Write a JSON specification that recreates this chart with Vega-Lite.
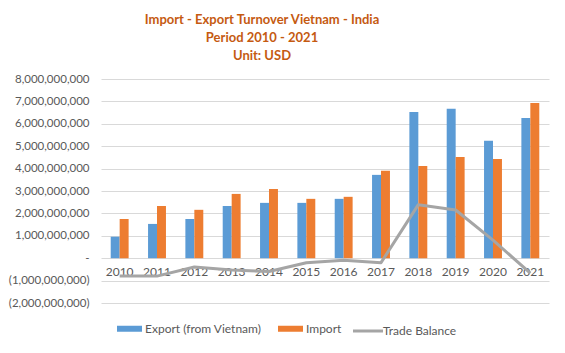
{
  "$schema": "https://vega.github.io/schema/vega-lite/v6.json",
  "autosize": "none",
  "width": 448,
  "height": 224,
  "padding": {"left": 101, "top": 79, "right": 16, "bottom": 50},
  "background": "white",
  "config": {
    "view": {"stroke": null},
    "font": "Lato",
    "axis": {"labelFont": "Lato", "labelColor": "#595959", "labelFontSize": 11.5}
  },
  "title": {
    "text": ["Import - Export Turnover Vietnam - India", "Period 2010 - 2021", "Unit: USD"],
    "font": "Lato",
    "fontSize": 13,
    "fontWeight": "bold",
    "color": "#C55A11",
    "anchor": "middle",
    "lineHeight": 18,
    "dx": -63,
    "offset": 10
  },
  "data": {
    "values": [
      {"year": "2010", "series": "Export (from Vietnam)", "value": 960000000},
      {"year": "2010", "series": "Import", "value": 1750000000},
      {"year": "2011", "series": "Export (from Vietnam)", "value": 1530000000},
      {"year": "2011", "series": "Import", "value": 2330000000},
      {"year": "2012", "series": "Export (from Vietnam)", "value": 1750000000},
      {"year": "2012", "series": "Import", "value": 2160000000},
      {"year": "2013", "series": "Export (from Vietnam)", "value": 2330000000},
      {"year": "2013", "series": "Import", "value": 2870000000},
      {"year": "2014", "series": "Export (from Vietnam)", "value": 2470000000},
      {"year": "2014", "series": "Import", "value": 3090000000},
      {"year": "2015", "series": "Export (from Vietnam)", "value": 2470000000},
      {"year": "2015", "series": "Import", "value": 2650000000},
      {"year": "2016", "series": "Export (from Vietnam)", "value": 2650000000},
      {"year": "2016", "series": "Import", "value": 2740000000},
      {"year": "2017", "series": "Export (from Vietnam)", "value": 3720000000},
      {"year": "2017", "series": "Import", "value": 3900000000},
      {"year": "2018", "series": "Export (from Vietnam)", "value": 6530000000},
      {"year": "2018", "series": "Import", "value": 4120000000},
      {"year": "2019", "series": "Export (from Vietnam)", "value": 6670000000},
      {"year": "2019", "series": "Import", "value": 4520000000},
      {"year": "2020", "series": "Export (from Vietnam)", "value": 5240000000},
      {"year": "2020", "series": "Import", "value": 4430000000},
      {"year": "2021", "series": "Export (from Vietnam)", "value": 6260000000},
      {"year": "2021", "series": "Import", "value": 6930000000},
      {"year": "2010", "series": "Trade Balance", "value": -790000000},
      {"year": "2011", "series": "Trade Balance", "value": -800000000},
      {"year": "2012", "series": "Trade Balance", "value": -390000000},
      {"year": "2013", "series": "Trade Balance", "value": -530000000},
      {"year": "2014", "series": "Trade Balance", "value": -590000000},
      {"year": "2015", "series": "Trade Balance", "value": -200000000},
      {"year": "2016", "series": "Trade Balance", "value": -90000000},
      {"year": "2017", "series": "Trade Balance", "value": -200000000},
      {"year": "2018", "series": "Trade Balance", "value": 2390000000},
      {"year": "2019", "series": "Trade Balance", "value": 2150000000},
      {"year": "2020", "series": "Trade Balance", "value": 810000000},
      {"year": "2021", "series": "Trade Balance", "value": -670000000}
    ]
  },
  "encoding": {
    "x": {
      "field": "year",
      "type": "nominal",
      "scale": {"type": "band", "paddingInner": 0.52, "paddingOuter": 0.26},
      "axis": {
        "title": null,
        "labelAngle": 0,
        "domain": false,
        "ticks": false,
        "offset": -45,
        "labelPadding": 8,
        "labelFontSize": 12
      }
    },
    "y": {
      "field": "value",
      "type": "quantitative",
      "scale": {"domain": [-2000000000, 8000000000], "nice": false, "zero": false},
      "axis": {
        "title": null,
        "values": [-2000000000, -1000000000, 0, 1000000000, 2000000000, 3000000000, 4000000000, 5000000000, 6000000000, 7000000000, 8000000000],
        "labelExpr": "datum.value == 0 ? '-\u00a0' : (datum.value < 0 ? '(' + format(-datum.value, ',') + ')' : format(datum.value, ',') + '\u00a0')",
        "domain": false,
        "ticks": false,
        "labelPadding": 12,
        "gridColor": "#D9D9D9",
        "gridWidth": 1
      }
    }
  },
  "layer": [
    {
      "transform": [{"filter": "datum.series != 'Trade Balance'"}],
      "mark": {"type": "bar"},
      "encoding": {
        "xOffset": {"field": "series", "type": "nominal", "sort": ["Export (from Vietnam)", "Import"]},
        "fill": {
          "field": "series",
          "type": "nominal",
          "scale": {"domain": ["Export (from Vietnam)", "Import"], "range": ["#5B9BD5", "#ED7D31"]},
          "legend": {
            "title": null,
            "orient": "none",
            "direction": "horizontal",
            "legendX": 16,
            "legendY": 237,
            "symbolType": "M-1,-0.24L1,-0.24L1,0.24L-1,0.24Z",
            "symbolSize": 625,
            "symbolStrokeWidth": 0,
            "labelFont": "Lato",
            "labelFontSize": 12,
            "labelColor": "#595959",
            "labelOffset": 3,
            "columnPadding": 16
          }
        }
      }
    },
    {
      "transform": [{"filter": "datum.series == 'Trade Balance'"}],
      "mark": {"type": "line", "strokeWidth": 3, "strokeJoin": "round"},
      "encoding": {
        "stroke": {
          "field": "series",
          "type": "nominal",
          "scale": {"domain": ["Trade Balance"], "range": ["#A5A5A5"]},
          "legend": {
            "title": null,
            "orient": "none",
            "legendX": 252,
            "legendY": 237,
            "symbolType": "M-1,-0.1L1,-0.1L1,0.1L-1,0.1Z",
            "symbolSize": 900,
            "symbolFillColor": "#A5A5A5",
            "symbolStrokeWidth": 0,
            "labelFont": "Lato",
            "labelFontSize": 12,
            "labelColor": "#595959",
            "labelOffset": 0
          }
        }
      }
    }
  ]
}
